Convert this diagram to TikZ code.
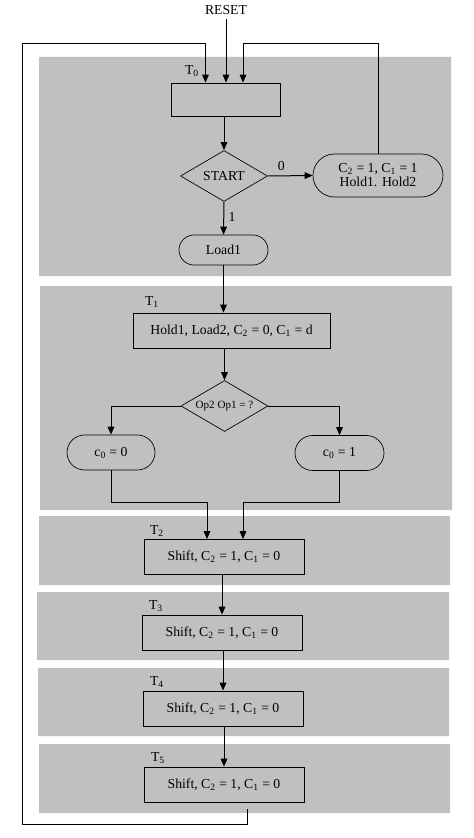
\documentclass[tikz,border=0pt]{standalone}
\usepackage{fontspec}
\setmainfont{Liberation Serif}
\usetikzlibrary{shapes.geometric,shapes.misc,arrows.meta}
\definecolor{stagegray}{RGB}{192,192,192}
\tikzset{
  act/.style={draw,line width=0.6pt,inner sep=0pt,minimum height=26.25pt},
  cond/.style={draw,line width=0.5pt,rounded rectangle,inner sep=0pt,minimum height=26.25pt},
  test/.style={draw,line width=0.5pt,diamond,aspect=1.7,inner sep=0pt,minimum width=65.25pt,minimum height=38.25pt},
  arr/.style={line width=0.75pt,-{Triangle[length=6pt,width=5pt]}},
  wire/.style={line width=0.6pt}
}
\begin{document}
\begin{tikzpicture}[x=0.75pt,y=-0.75pt,font=\fontsize{10.3}{12}\selectfont]
\useasboundingbox (0,0) rectangle (474,838);
\fill[stagegray]
(39,57) rectangle (451,276)
(40,286) rectangle (452,510)
(39,516) rectangle (450,585)
(37,592) rectangle (449,660)
(38,668) rectangle (449,736)
(39,744) rectangle (450,813);

\node (reset) at (226,10) {RESET};
\node[act,minimum width=81.75pt,minimum height=24.75pt] (init) at (225.5,99.5) {};
\node[test] (start) at (224,176) {START};
\node[cond,minimum width=97.5pt,minimum height=32.25pt,align=center] (hold) at (378,175.5)
  {C\textsubscript{2} = 1, C\textsubscript{1} = 1\\[-1.5pt]Hold1. Hold2};
\node[cond,minimum width=66.75pt,minimum height=22.5pt] (load) at (223.5,250) {Load1};
\node[act,minimum width=147.75pt] (hold1) at (231.5,330.5)
  {Hold1, Load2, C\textsubscript{2} = 0, C\textsubscript{1} = d};
\node[test,font=\fontsize{8.3}{10}\selectfont] (op) at (224.5,406) {Op2 Op1 = ?};
\node[cond,minimum width=66pt] (czero) at (111,452.5) {c\textsubscript{0} = 0};
\node[cond,minimum width=66.75pt] (cone) at (339.5,453) {c\textsubscript{0} = 1};
\node[act,minimum width=120pt] (shifta) at (224,557) {Shift, C\textsubscript{2} = 1, C\textsubscript{1} = 0};
\node[act,minimum width=120pt] (shiftb) at (222,632.5) {Shift, C\textsubscript{2} = 1, C\textsubscript{1} = 0};
\node[act,minimum width=120pt] (shiftc) at (223,708.5) {Shift, C\textsubscript{2} = 1, C\textsubscript{1} = 0};
\node[act,minimum width=120pt] (shiftd) at (224,784.5) {Shift, C\textsubscript{2} = 1, C\textsubscript{1} = 0};

\node (t0) at (192,71) {T\textsubscript{0}};
\node (t1) at (152,302) {T\textsubscript{1}};
\node (t2) at (157,531) {T\textsubscript{2}};
\node (t3) at (156,606) {T\textsubscript{3}};
\node (t4) at (157,682) {T\textsubscript{4}};
\node (t5) at (158,758) {T\textsubscript{5}};

\coordinate (topL) at (22,44);
\coordinate (topR) at (243,44);
\coordinate (loopL) at (22,824);
\coordinate (fbk) at (247,809);
\coordinate (mergeL) at (207,502);
\coordinate (mergeR) at (243,502);

\draw[arr] (reset.south) -- (reset.south |- init.north);
\draw[arr] (hold.north) |- (topR) -- (topR |- init.north);
\draw[wire] (fbk) |- (loopL) -- (topL);
\draw[arr] (topL) -| ([xshift=-15pt]init.north);
\draw[arr] (init.south -| start.north) -- (start.north);
\draw[arr] (start.east) -- node[above,pos=0.3] (lbl0) {0} (hold.west);
\draw[arr] (start.south) -- node[right,pos=0.45] (lbl1) {1} (load.north);
\draw[arr] (load.south) -- (load.south |- hold1.north);
\draw[arr] (hold1.south -| op.north) -- (op.north);
\draw[arr] (op.west) -| (czero.north);
\draw[arr] (op.east) -| (cone.north);
\draw[wire] (czero.south) |- (mergeL);
\draw[arr] (mergeL) -- (mergeL |- shifta.north);
\draw[wire] (cone.south) |- (mergeR);
\draw[arr] (mergeR) -- (mergeR |- shifta.north);
\draw[arr] (shifta.south -| shiftb.north) -- (shiftb.north);
\draw[arr] (shiftb.south -| shiftc.north) -- (shiftc.north);
\draw[arr] (shiftc.south -| shiftd.north) -- (shiftd.north);
\end{tikzpicture}
\end{document}
